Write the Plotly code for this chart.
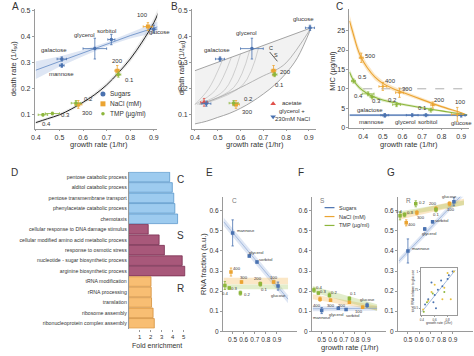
import plotly.graph_objects as go

W, H = 474, 356
FONT = "Liberation Sans, Arial, Helvetica, sans-serif"
TXT = "#333333"
AXC = "#9a9a9a"
BLUE = "#4A72B0"; ORANGE = "#EBA432"; GREEN = "#8DB63C"; RED = "#E0504A"
BLUE_BAND = "rgba(90,130,200,0.20)"; ORANGE_BAND = "rgba(240,170,50,0.28)"; GREEN_BAND = "rgba(150,190,70,0.28)"
GREY_BAND = "rgba(160,160,160,0.22)"

# ---------------- data ----------------
# Panel A: death rate vs growth rate
sugar_names = ["galactose", "mannose", "glycerol", "sorbitol", "glucose"]
sugar_gr = [0.51, 0.51, 0.65, 0.72, 0.90]
sugar_gr_err = [0.02, 0.01, 0.05, 0.015, 0.02]
sugar_death = [0.315, 0.29, 0.355, 0.39, 0.43]
sugar_death_err = [0.008, 0.007, 0.04, 0.02, 0.015]

nacl_names_A = ["100", "200", "300"]
nacl_gr_A = [0.875, 0.745, 0.58]
nacl_gr_err_A = [0.02, 0.01, 0.015]
nacl_death_A = [0.44, 0.27, 0.14]
nacl_death_err_A = [0.015, 0.02, 0.015]

tmp_names_A = ["0.1", "0.2", "0.3", "0.4"]
tmp_gr_A = [0.75, 0.57, 0.47, 0.43]
tmp_gr_err_A = [0.01, 0.02, 0.03, 0.02]
tmp_death_A = [0.255, 0.145, 0.105, 0.10]
tmp_death_err_A = [0.01, 0.01, 0.005, 0.005]

sugar_fit_x = [0.40, 0.50, 0.60, 0.70, 0.80, 0.92]
sugar_fit_y = [0.272, 0.305, 0.338, 0.372, 0.405, 0.44]
sugar_fit_lo = [0.238, 0.285, 0.326, 0.364, 0.394, 0.42]
sugar_fit_hi = [0.306, 0.325, 0.350, 0.380, 0.416, 0.46]

curve_x = [0.40, 0.45, 0.50, 0.55, 0.60, 0.65, 0.70, 0.75, 0.80, 0.85, 0.90, 0.92]
curve_y = [0.070, 0.085, 0.100, 0.122, 0.148, 0.178, 0.215, 0.262, 0.315, 0.380, 0.455, 0.495]
curve_lo = [0.064, 0.079, 0.094, 0.116, 0.141, 0.170, 0.206, 0.252, 0.303, 0.366, 0.438, 0.475]
curve_hi = [0.076, 0.091, 0.106, 0.128, 0.155, 0.186, 0.224, 0.272, 0.327, 0.394, 0.472, 0.515]

# Panel B
B_sugar_names = ["galactose", "glycerol", "glucose"]
B_sugar_gr = [0.51, 0.65, 0.905]
B_sugar_gr_err = [0.02, 0.05, 0.02]
B_sugar_death = [0.315, 0.355, 0.435]
B_sugar_death_err = [0.008, 0.04, 0.01]
B_nacl_names = ["200", "300"]
B_nacl_gr = [0.745, 0.58]
B_nacl_death = [0.27, 0.14]
B_tmp_names = ["0.1", "0.2"]
B_tmp_gr = [0.75, 0.57]
B_tmp_death = [0.255, 0.145]
acetate_gr = [0.44]; acetate_death = [0.148]
glyc_nacl_gr = [0.45]; glyc_nacl_death = [0.143]
B_upper_x = [0.40, 0.91]; B_upper_y = [0.27, 0.435]
B_lower_x = [0.40, 0.45, 0.50, 0.55, 0.60, 0.65, 0.70, 0.75, 0.80, 0.85, 0.91]
B_lower_y = [0.065, 0.075, 0.090, 0.105, 0.125, 0.150, 0.180, 0.215, 0.260, 0.320, 0.435]
B_upper_at_lower = [0.27, 0.286, 0.302, 0.319, 0.335, 0.351, 0.367, 0.383, 0.400, 0.416, 0.435]
B_mid_x = [0.42, 0.50, 0.60, 0.70, 0.75, 0.80, 0.91]
B_mid_y = [0.14, 0.165, 0.205, 0.25, 0.27, 0.30, 0.435]
B_fan = [
    ([0.40, 0.46, 0.52], [0.14, 0.20, 0.309]),
    ([0.40, 0.49, 0.56], [0.14, 0.195, 0.322]),
    ([0.41, 0.53, 0.60], [0.14, 0.195, 0.335]),
    ([0.42, 0.57, 0.64], [0.14, 0.205, 0.348]),
    ([0.43, 0.61, 0.68], [0.14, 0.215, 0.361]),
]
B_cs_x = [0.728, 0.762]; B_cs_y = [0.342, 0.306]

# Panel C: MIC
C_sugar_gr = [0.51, 0.51, 0.65, 0.72, 0.90]
C_sugar_mic = [3.2, 3.1, 3.2, 3.2, 3.1]
C_sugar_err = [0.02, 0.01, 0.03, 0.01, 0.02]
C_sugar_line_x = [0.33, 0.93]; C_sugar_line_y = [3.2, 3.2]
C_nacl_names = ["500", "400", "300", "200", "100"]
C_nacl_gr = [0.39, 0.50, 0.585, 0.755, 0.88]
C_nacl_gr_err = [0.01, 0.02, 0.02, 0.01, 0.03]
C_nacl_mic = [18.0, 10.6, 9.0, 5.8, 3.4]
C_nacl_mic_err = [1.2, 1.0, 1.2, 0.8, 1.8]
C_nacl_curve_x = [0.33, 0.35, 0.37, 0.39, 0.42, 0.46, 0.50, 0.55, 0.60, 0.70, 0.80, 0.90, 0.93]
C_nacl_curve_y = [27.5, 24.0, 20.5, 18.0, 15.5, 13.0, 11.4, 10.1, 9.1, 7.2, 5.4, 3.8, 3.2]
C_tmp_names = ["0.5", "0.4", "0.3", "0.2", "0.1"]
C_tmp_gr = [0.35, 0.425, 0.445, 0.57, 0.745]
C_tmp_mic = [12.0, 8.7, 7.9, 5.9, 4.5]
C_tmp_gr_err = [0.01, 0.03, 0.01, 0.02, 0.01]
C_tmp_curve_x = [0.33, 0.35, 0.38, 0.42, 0.46, 0.50, 0.60, 0.70, 0.80, 0.90, 0.93]
C_tmp_curve_y = [14.3, 12.2, 10.3, 8.8, 7.8, 7.1, 6.0, 5.1, 4.3, 3.5, 3.2]
C_dash_x = [0.40, 0.94]; C_dash_y = [10, 10]

# Panel D: GO enrichment
go_terms = ["pentose catabolic process", "alditol catabolic process", "pentose transmembrane transport",
            "phenylacetate catabolic process", "chemotaxis",
            "cellular response to DNA damage stimulus", "cellular modified amino acid metabolic process",
            "response to osmotic stress", "nucleotide - sugar biosynthetic process", "arginine biosynthetic process",
            "tRNA modification", "rRNA processing", "translation", "ribosome assembly",
            "ribonucleoprotein complex assembly"]
go_fold = [3.73, 3.97, 4.1, 4.2, 4.45, 1.78, 2.77, 3.25, 4.87, 5.1, 2.03, 2.05, 2.08, 2.22, 2.33]
go_group = ["C"] * 5 + ["S"] * 5 + ["R"] * 5

# Panels E-G: sector RNA fractions
efg_sugar_names = ["mannose", "glycerol", "sorbitol", "glucose"]
efg_sugar_gr = [0.50, 0.65, 0.72, 0.91]
efg_nacl_names = ["400", "300", "200", "100"]
efg_nacl_gr = [0.485, 0.58, 0.75, 0.87]
efg_tmp_names = ["0.4", "0.3", "0.2", "0.1"]
efg_tmp_gr = [0.43, 0.47, 0.57, 0.75]
fit_x = [0.42, 1.0]

E_sugar = [0.49, 0.375, 0.345, 0.225]; E_sugar_err = [0.065, 0.005, 0.005, 0.02]
E_nacl = [0.295, 0.245, 0.237, 0.245]; E_nacl_err = [0.02, 0.006, 0.006, 0.006]
E_tmp = [0.228, 0.215, 0.19, 0.235]; E_tmp_err = [0.02, 0.006, 0.01, 0.01]
E_sugar_fit = [0.545, 0.16]; E_nacl_fit = [0.25, 0.25]; E_tmp_fit = [0.221, 0.221]
E_sugar_bw = 0.02; E_nacl_bw = 0.016; E_tmp_bw = 0.012

F_sugar = [0.103, 0.115, 0.108, 0.13]; F_sugar_err = [0.015, 0.005, 0.005, 0.01]
F_nacl = [0.16, 0.155, 0.145, 0.12]; F_nacl_err = [0.01, 0.006, 0.006, 0.006]
F_tmp = [0.205, 0.19, 0.18, 0.163]; F_tmp_err = [0.01, 0.006, 0.01, 0.008]
F_sugar_fit = [0.112, 0.114]; F_nacl_fit = [0.172, 0.115]; F_tmp_fit = [0.21, 0.118]
F_sugar_bw = 0.012; F_nacl_bw = 0.012; F_tmp_bw = 0.016

G_sugar = [0.40, 0.51, 0.545, 0.645]; G_sugar_err = [0.06, 0.006, 0.006, 0.02]
G_nacl = [0.54, 0.59, 0.61, 0.635]; G_nacl_err = [0.015, 0.01, 0.01, 0.01]
G_tmp = [0.575, 0.58, 0.635, 0.605]; G_tmp_err = [0.02, 0.01, 0.015, 0.01]
G_sugar_fit = [0.35, 0.69]; G_nacl_fit = [0.57, 0.645]; G_tmp_fit = [0.585, 0.64]
G_sugar_bw = 0.015; G_nacl_bw = 0.015; G_tmp_bw = 0.012

# inset of G: total RNA relative to glucose
ins_blue_x = [0.45, 0.50, 0.55, 0.58, 0.60, 0.62, 0.65, 0.70, 0.72, 0.80, 0.82, 0.88]
ins_blue_y = [0.55, 0.62, 0.85, 0.58, 0.68, 0.50, 0.75, 0.88, 0.80, 0.90, 0.95, 1.00]
ins_yel_x = [0.42, 0.50, 0.55, 0.60, 0.72, 0.75, 0.80, 0.85, 0.90]
ins_yel_y = [0.48, 0.60, 0.72, 0.82, 0.62, 0.78, 0.98, 0.62, 1.00]
ins_grn_x = [0.43, 0.48, 0.57, 0.75]
ins_grn_y = [0.45, 0.58, 0.70, 0.72]
ins_fit_x = [0.40, 0.92]; ins_fit_y = [0.45, 1.02]

# ---------------- helpers ----------------
fig = go.Figure()
ann = []
shapes = []


def axid(n):
    return ("x", "y") if n == 1 else ("x%d" % n, "y%d" % n)


def line(n, x, y, color, width=1.0, dash=None, shape="linear"):
    xa, ya = axid(n)
    fig.add_trace(go.Scatter(x=x, y=y, mode="lines", xaxis=xa, yaxis=ya, showlegend=False, hoverinfo="skip",
                             line=dict(color=color, width=width, dash=dash, shape=shape)))


def band(n, x, lo, hi, color):
    xa, ya = axid(n)
    fig.add_trace(go.Scatter(x=list(x) + list(x)[::-1], y=list(lo) + list(hi)[::-1], mode="lines",
                             fill="toself", fillcolor=color, line=dict(width=0), xaxis=xa, yaxis=ya,
                             showlegend=False, hoverinfo="skip"))


def pts(n, x, y, color, symbol="circle", size=4, xerr=None, yerr=None, errcolor=None):
    xa, ya = axid(n)
    ec = errcolor or color
    tr = dict(x=x, y=y, mode="markers", xaxis=xa, yaxis=ya, showlegend=False, hoverinfo="skip",
              marker=dict(color=color, symbol=symbol, size=size, line=dict(width=0)))
    if yerr is not None:
        tr["error_y"] = dict(type="data", array=yerr, thickness=0.8, width=1.2, color=ec)
    if xerr is not None:
        tr["error_x"] = dict(type="data", array=xerr, thickness=0.8, width=1.2, color=ec)
    fig.add_trace(go.Scatter(**tr))


def lab(n, x, y, text, dx=0, dy=0, size=5.5, anchor="center", color=TXT):
    xa, ya = axid(n)
    ann.append(dict(x=x, y=y, xref=xa, yref=ya, text=text, showarrow=False, xshift=dx, yshift=dy,
                    xanchor=anchor, yanchor="middle", font=dict(size=size, color=color, family=FONT)))


def ptxt(px, py, text, size=7, angle=0, anchor="center", color=TXT):
    ann.append(dict(x=px / W, y=1 - py / H, xref="paper", yref="paper", text=text, showarrow=False,
                    textangle=angle, xanchor=anchor, yanchor="middle",
                    font=dict(size=size, color=color, family=FONT)))


def key_marker(px, py, color, symbol, size):
    # legend key drawn on a full-page overlay axis measured in pixels
    fig.add_trace(go.Scatter(x=[px], y=[py], mode="markers", xaxis="x9", yaxis="y9", showlegend=False,
                             hoverinfo="skip", cliponaxis=False,
                             marker=dict(color=color, symbol=symbol, size=size, line=dict(width=0))))


def dom_x(a, b):
    return [a / W, b / W]


def dom_y(t, b):
    return [1 - b / H, 1 - t / H]


def axis(domain, rng, tickvals=None, ticktext=None, anchor=None, size=7, **kw):
    d = dict(domain=domain, showline=True, linecolor=AXC, linewidth=0.7, ticks="outside",
             ticklen=2, tickwidth=0.7, tickcolor=AXC, showgrid=False, zeroline=False, fixedrange=True,
             tickangle=0, tickfont=dict(size=size, color=TXT, family=FONT))
    if rng is not None:
        d["range"] = rng
    if tickvals is not None:
        d["tickvals"] = tickvals
    if ticktext is not None:
        d["ticktext"] = ticktext
    if anchor:
        d["anchor"] = anchor
    d.update(kw)
    return d


gr_ticks = [0.4, 0.5, 0.6, 0.7, 0.8, 0.9]
gr_text = ["0.4", "0.5", "0.6", "0.7", "0.8", "0.9"]
dr_ticks = [0.1, 0.2, 0.3, 0.4, 0.5]
dr_text = ["0.1", "0.2", "0.3", "0.4", "0.5"]

# ---------------- Panel A ----------------
band(1, sugar_fit_x, sugar_fit_lo, sugar_fit_hi, BLUE_BAND)
line(1, sugar_fit_x, sugar_fit_y, "#6F93C8", 0.9)
band(1, curve_x, curve_lo, curve_hi, GREY_BAND)
line(1, curve_x, curve_y, "#222222", 1.0, shape="spline")
pts(1, sugar_gr, sugar_death, BLUE, "circle", 3.5, sugar_gr_err, sugar_death_err)
pts(1, nacl_gr_A, nacl_death_A, ORANGE, "square", 4, nacl_gr_err_A, nacl_death_err_A)
pts(1, tmp_gr_A, tmp_death_A, GREEN, "circle", 3.5, tmp_gr_err_A, tmp_death_err_A)
offA_s = [(-8, 9), (0, -9), (-10, 14), (-5, 9), (6, -3)]
for i, nm in enumerate(sugar_names):
    lab(1, sugar_gr[i], sugar_death[i], nm, *offA_s[i], size=6)
offA_n = [(-5, 12), (0, 10), (9, -9)]
for i, nm in enumerate(nacl_names_A):
    lab(1, nacl_gr_A[i], nacl_death_A[i], nm, *offA_n[i], size=6)
offA_t = [(11, -5), (13, 4), (13, -1), (4, -9)]
for i, nm in enumerate(tmp_names_A):
    lab(1, tmp_gr_A[i], tmp_death_A[i], nm, *offA_t[i], size=6)
# legend A
key_marker(100, 94, BLUE, "circle", 5)
key_marker(100, 104, ORANGE, "square", 5)
key_marker(100, 114, GREEN, "circle", 3.5)
ptxt(105, 94, "Sugars", 6.5, anchor="left")
ptxt(105, 104, "NaCl (mM)", 6.5, anchor="left")
ptxt(105, 114, "TMP (µg/ml)", 6.5, anchor="left")

# ---------------- Panel B ----------------
band(2, B_lower_x, B_lower_y, B_upper_at_lower, "rgba(170,170,170,0.15)")
for fx, fy in B_fan:
    line(2, fx, fy, "#b5b5b5", 0.6, shape="spline")
line(2, B_upper_x, B_upper_y, "#9a9a9a", 0.9)
line(2, B_lower_x, B_lower_y, "#9a9a9a", 0.9, shape="spline")
line(2, B_mid_x, B_mid_y, "#a5a5a5", 0.8, shape="spline")
pts(2, B_sugar_gr, B_sugar_death, BLUE, "circle", 3.5, B_sugar_gr_err, B_sugar_death_err)
pts(2, B_nacl_gr, B_nacl_death, ORANGE, "square", 4, [0.01, 0.015], [0.02, 0.015])
pts(2, B_tmp_gr, B_tmp_death, GREEN, "circle", 3.5, [0.01, 0.02], [0.008, 0.01])
pts(2, acetate_gr, acetate_death, RED, "triangle-up", 5, [0.015], [0.015])
pts(2, glyc_nacl_gr, glyc_nacl_death, BLUE, "triangle-down", 5, [0.02], [0.01])
offB_s = [(-3, 9), (-5, 16), (-6, 9)]
for i, nm in enumerate(B_sugar_names):
    lab(2, B_sugar_gr[i], B_sugar_death[i], nm, *offB_s[i], size=6)
offB_n = [(12, -1), (12, -8)]
for i, nm in enumerate(B_nacl_names):
    lab(2, B_nacl_gr[i], B_nacl_death[i], nm, *offB_n[i], size=6)
offB_t = [(5, -10), (15, 4)]
for i, nm in enumerate(B_tmp_names):
    lab(2, B_tmp_gr[i], B_tmp_death[i], nm, *offB_t[i], size=6)
# C / S direction marker
line(2, B_cs_x, B_cs_y, "#333333", 0.8)
lab(2, B_cs_x[0], B_cs_y[0], "C", dx=1, dy=4, size=5.5)
lab(2, B_cs_x[1], B_cs_y[1], "S", dx=-1, dy=6, size=5.5)
key_marker(272, 104, RED, "triangle-up", 5)
key_marker(272, 117, BLUE, "triangle-down", 5)
ptxt(291, 103, "acetate", 6)
ptxt(291, 111, "glycerol +", 6)
ptxt(292, 119.5, "230mM NaCl", 6)

# ---------------- Panel C ----------------
line(3, C_dash_x, C_dash_y, "#999999", 0.8, dash="dash")
band(3, C_nacl_curve_x, [v * 0.94 for v in C_nacl_curve_y], [v * 1.06 for v in C_nacl_curve_y], ORANGE_BAND)
band(3, C_tmp_curve_x, [v * 0.94 for v in C_tmp_curve_y], [v * 1.06 for v in C_tmp_curve_y], GREEN_BAND)
band(3, C_sugar_line_x, [2.9, 2.9], [3.5, 3.5], BLUE_BAND)
line(3, C_nacl_curve_x, C_nacl_curve_y, ORANGE, 1.1, shape="spline")
line(3, C_tmp_curve_x, C_tmp_curve_y, GREEN, 1.1, shape="spline")
line(3, C_sugar_line_x, C_sugar_line_y, BLUE, 1.1)
pts(3, C_sugar_gr, C_sugar_mic, BLUE, "circle", 2.5, C_sugar_err, [0.4] * 5)
pts(3, C_nacl_gr, C_nacl_mic, ORANGE, "circle", 2.5, C_nacl_gr_err, C_nacl_mic_err)
pts(3, C_tmp_gr, C_tmp_mic, GREEN, "circle", 2.5, C_tmp_gr_err, [0.5] * 5)
offC_s = [(-15, 5), (-13, -6), (-7, -7), (2, -7), (0, -7)]
for i, nm in enumerate(sugar_names):
    lab(3, C_sugar_gr[i], C_sugar_mic[i], nm, *offC_s[i], size=6)
offC_n = [(9, 2), (8, 5), (8, 4), (7, 5), (3, 12)]
for i, nm in enumerate(C_nacl_names):
    lab(3, C_nacl_gr[i], C_nacl_mic[i], nm, *offC_n[i], size=6)
offC_t = [(9, 4), (-10, -2), (4, -4), (-4, 5), (-8, 2)]
for i, nm in enumerate(C_tmp_names):
    lab(3, C_tmp_gr[i], C_tmp_mic[i], nm, *offC_t[i], size=6)

# ---------------- Panel D ----------------
fill_map = {"C": "#9DCBEF", "S": "#A8587A", "R": "#F8BE73"}
edge_map = {"C": "#5A98CC", "S": "#7A2E52", "R": "#D4913C"}
fig.add_trace(go.Bar(y=go_terms, x=go_fold, orientation="h", xaxis="x4", yaxis="y4", showlegend=False,
                     hoverinfo="skip", width=0.92,
                     marker=dict(color=[fill_map[g] for g in go_group],
                                 line=dict(color=[edge_map[g] for g in go_group], width=0.8))))
ptxt(178, 181, "C", 10)
ptxt(178, 237, "S", 10)
ptxt(178, 291, "R", 10)

# ---------------- Panels E, F, G ----------------
def sector(n, s, se, nn, ne, t, te, sf, nf, tf, sbw, nbw, tbw, offs):
    band(n, fit_x, [v - sbw for v in sf], [v + sbw for v in sf], BLUE_BAND)
    band(n, fit_x, [v - nbw for v in nf], [v + nbw for v in nf], ORANGE_BAND)
    band(n, fit_x, [v - tbw for v in tf], [v + tbw for v in tf], GREEN_BAND)
    line(n, fit_x, sf, "#7D9ED0", 0.6)
    pts(n, efg_sugar_gr, s, BLUE, "square", 3.5, None, se)
    pts(n, efg_nacl_gr, nn, ORANGE, "square", 3.5, None, ne)
    pts(n, efg_tmp_gr, t, GREEN, "square", 3.5, None, te)
    so, no, to = offs
    for i, nm in enumerate(efg_sugar_names):
        lab(n, efg_sugar_gr[i], s[i], nm, *so[i], size=4.2)
    for i, nm in enumerate(efg_nacl_names):
        lab(n, efg_nacl_gr[i], nn[i], nm, *no[i], size=4.2)
    for i, nm in enumerate(efg_tmp_names):
        lab(n, efg_tmp_gr[i], t[i], nm, *to[i], size=4.2)


sector(5, E_sugar, E_sugar_err, E_nacl, E_nacl_err, E_tmp, E_tmp_err, E_sugar_fit, E_nacl_fit, E_tmp_fit,
       E_sugar_bw, E_nacl_bw, E_tmp_bw,
       ([(13, 2), (7, 3), (9, 3), (0, -9)], [(6, 4), (3, 5), (-2, 5), (0, 5)],
        [(0, -8), (5, 0), (7, -1), (4, -5)]))
sector(6, F_sugar, F_sugar_err, F_nacl, F_nacl_err, F_tmp, F_tmp_err, F_sugar_fit, F_nacl_fit, F_tmp_fit,
       F_sugar_bw, F_nacl_bw, F_tmp_bw,
       ([(0, -7), (-2, -6), (7, -6), (0, 6)], [(-3, -6), (0, -5), (-7, -3), (-4, -4)],
        [(5, 3), (5, 2), (5, 3), (4, 5)]))
sector(7, G_sugar, G_sugar_err, G_nacl, G_nacl_err, G_tmp, G_tmp_err, G_sugar_fit, G_nacl_fit, G_tmp_fit,
       G_sugar_bw, G_nacl_bw, G_tmp_bw,
       ([(13, 2), (4, -5), (9, 1), (-4, 5)], [(6, -2), (4, -5), (-3, 5), (2, -6)],
        [(-1, 4), (5, 2), (6, 1), (0, -5)]))
ptxt(233, 202, "C", 6.5, color="#777")
ptxt(322, 202, "S", 6.5, color="#777")
ptxt(409, 202, "R", 6.5, color="#777")
# legend F
for k, (c, t) in enumerate([(BLUE, "Sugars"), (ORANGE, "NaCl (mM)"), (GREEN, "TMP (µg/ml)")]):
    yy = 209 + 9 * k
    shapes.append(dict(type="line", xref="paper", yref="paper", x0=324 / W, x1=334 / W,
                       y0=1 - yy / H, y1=1 - yy / H, line=dict(color=c, width=1.2)))
    ptxt(337, yy, t, 5.5, anchor="left")

# inset in G
line(8, ins_fit_x, ins_fit_y, "#7D9ED0", 0.7)
pts(8, ins_blue_x, ins_blue_y, BLUE, "circle", 2)
pts(8, ins_yel_x, ins_yel_y, "#E6C040", "circle", 2)
pts(8, ins_grn_x, ins_grn_y, GREEN, "circle", 2)
ptxt(413, 293, "total RNA relative to glucose", 3.4, angle=-90)
ptxt(440, 325.5, "growth rate (1/hr)", 3.4)

# ---------------- titles & panel letters ----------------
for px, py, t in [(12, 6, "A"), (172, 6, "B"), (339, 6, "C"), (11, 173, "D"), (208, 173, "E"),
                  (300, 173, "F"), (391, 173, "G")]:
    ptxt(px, py, t, 10)
ptxt(96, 145, "growth rate (1/hr)", 7.5)
ptxt(254, 145, "growth rate (1/hr)", 7.5)
ptxt(409, 145, "growth rate (1/hr)", 7.5)
ptxt(10, 68, "death rate (1/<i>t</i><sub>sd</sub>)", 7.5, angle=-90)
ptxt(180, 68, "death rate (1/<i>t</i><sub>sd</sub>)", 7.5, angle=-90)
ptxt(332, 70, "MIC (µg/ml)", 7.5, angle=-90)
ptxt(155, 348, "Fold enrichment", 7)
ptxt(350, 350, "growth rate (1/hr)", 7.5)
ptxt(201, 266, "RNA fraction (a.u.)", 7.5, angle=-90)

efg_xt = [0.5, 0.6, 0.7, 0.8, 0.9]
efg_yt = [0, 0.1, 0.2, 0.3, 0.4, 0.5, 0.6]
efg_ytt = ["0", "0.1", "0.2", "0.3", "0.4", "0.5", "0.6"]

hidden = dict(visible=False, showgrid=False, zeroline=False, fixedrange=True)

layout_axes = dict(
    xaxis=axis(dom_x(31, 155), [0.395, 0.915], gr_ticks, gr_text, "y"),
    yaxis=axis(dom_y(8, 129), [0.047, 0.508], dr_ticks, dr_text, "x"),
    xaxis2=axis(dom_x(190, 315), [0.387, 0.93], gr_ticks, gr_text, "y2"),
    yaxis2=axis(dom_y(8, 129), [0.047, 0.508], dr_ticks, dr_text, "x2"),
    xaxis3=axis(dom_x(349, 470), [0.329, 0.94], gr_ticks, gr_text, "y3"),
    yaxis3=axis(dom_y(8, 128), [0, 30.6], [0, 5, 10, 15, 20, 25], None, "x3"),
    xaxis4=axis(dom_x(126, 186), [0, 5.4], [1, 2, 3, 4, 5], None, "y4", size=6, showline=False),
    yaxis4=axis(dom_y(172.7, 331.3), None, None, None, "x4", size=5.2, type="category",
                autorange="reversed", ticks=""),
    xaxis5=axis(dom_x(221, 296), [0.41, 1.08], efg_xt, None, "y5", size=6.5),
    yaxis5=axis(dom_y(198, 334), [0, 0.67], efg_yt, efg_ytt, "x5", size=6.5),
    xaxis6=axis(dom_x(311, 386), [0.41, 1.08], efg_xt, None, "y6", size=6.5),
    yaxis6=axis(dom_y(198, 334), [0, 0.67], efg_yt, efg_ytt, "x6", size=6.5),
    xaxis7=axis(dom_x(398, 474), [0.41, 1.08], efg_xt, None, "y7", size=6.5),
    yaxis7=axis(dom_y(198, 334), [0, 0.67], efg_yt, efg_ytt, "x7", size=6.5),
    xaxis8=axis(dom_x(421, 458), [0.38, 0.95], [0.4, 0.6, 0.8], None, "y8", size=3, mirror=True,
                ticklen=1),
    yaxis8=axis(dom_y(270, 318), [0.4, 1.05], [0.5, 0.75, 1], ["0.5", "0.75", "1"], "x8", size=3,
                mirror=True, ticklen=1),
    xaxis9=dict(domain=[0, 1], range=[0, W], anchor="y9", **hidden),
    yaxis9=dict(domain=[0, 1], range=[H, 0], anchor="x9", **hidden),
)

fig.update_layout(width=W, height=H, margin=dict(l=0, r=0, t=0, b=0), paper_bgcolor="white",
                  plot_bgcolor="rgba(0,0,0,0)", font=dict(family=FONT, color=TXT), annotations=ann,
                  shapes=shapes, bargap=0.08, **layout_axes)
fig.write_html("out.html", config={"displayModeBar": False})
